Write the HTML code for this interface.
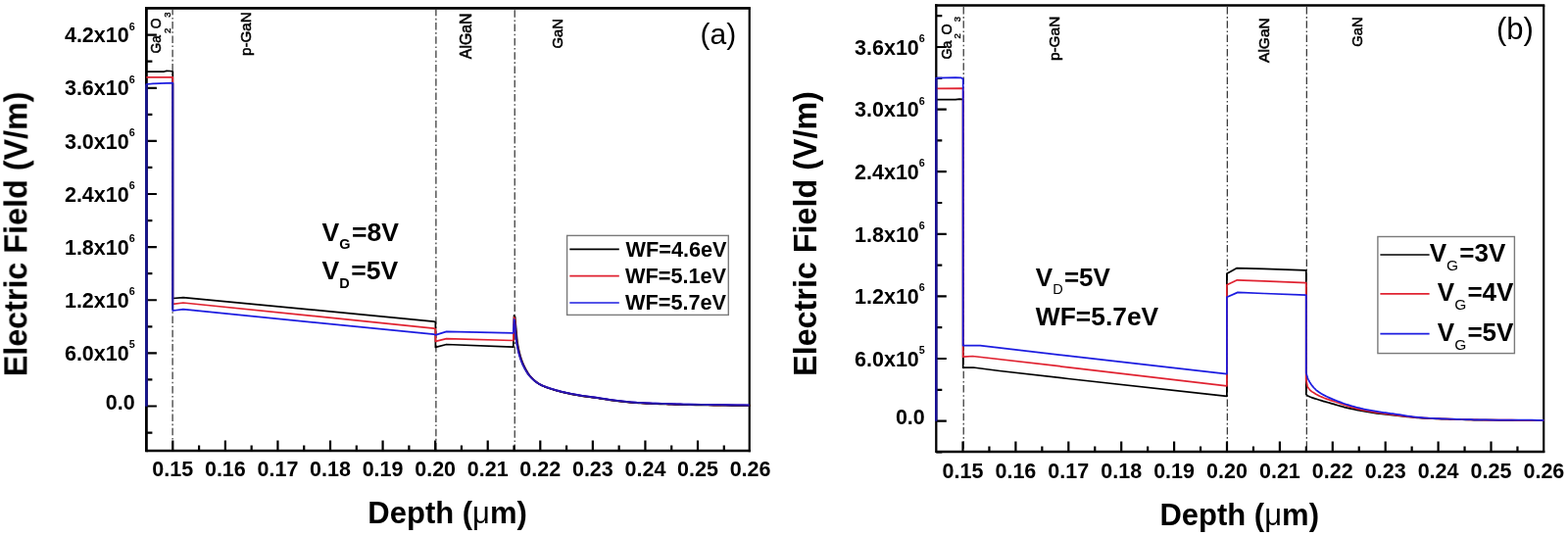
<!DOCTYPE html><html><head><meta charset="utf-8"><title>Electric field vs depth</title><style>html,body{margin:0;padding:0;background:#fff;}svg{display:block;}</style></head><body><svg width="1600" height="547" viewBox="0 0 1600 547" font-family='"Liberation Sans", Arial, sans-serif'>
<rect width="1600" height="547" fill="#fff"/>
<defs><filter id="soft" filterUnits="userSpaceOnUse" x="0" y="0" width="1600" height="547"><feGaussianBlur stdDeviation="0.45"/></filter></defs><g filter="url(#soft)">
<line x1="176.10" y1="9.80" x2="176.10" y2="459.10" stroke="#1a1a1a" stroke-width="1.1" stroke-dasharray="7.5 2.6 1.6 2.6" stroke-dashoffset="2.00"/>
<line x1="444.90" y1="9.80" x2="444.90" y2="459.10" stroke="#1a1a1a" stroke-width="1.1" stroke-dasharray="7.5 2.6 1.6 2.6" stroke-dashoffset="1.10"/>
<line x1="525.20" y1="9.80" x2="525.20" y2="459.10" stroke="#1a1a1a" stroke-width="1.1" stroke-dasharray="7.5 2.6 1.6 2.6" stroke-dashoffset="13.80"/>
<path d="M149.40 414.50 H159.90 M149.40 360.38 H159.90 M149.40 306.26 H159.90 M149.40 252.14 H159.90 M149.40 198.02 H159.90 M149.40 143.90 H159.90 M149.40 89.78 H159.90 M149.40 35.66 H159.90 M149.40 441.56 H155.40 M149.40 387.44 H155.40 M149.40 333.32 H155.40 M149.40 279.20 H155.40 M149.40 225.08 H155.40 M149.40 170.96 H155.40 M149.40 116.84 H155.40 M149.40 62.72 H155.40 M176.30 460.10 V449.60 M229.87 460.10 V449.60 M283.44 460.10 V449.60 M337.01 460.10 V449.60 M390.58 460.10 V449.60 M444.15 460.10 V449.60 M497.72 460.10 V449.60 M551.29 460.10 V449.60 M604.86 460.10 V449.60 M658.43 460.10 V449.60 M712.00 460.10 V449.60 M203.09 460.10 V454.60 M256.66 460.10 V454.60 M310.23 460.10 V454.60 M363.80 460.10 V454.60 M417.37 460.10 V454.60 M470.94 460.10 V454.60 M524.50 460.10 V454.60 M578.08 460.10 V454.60 M631.64 460.10 V454.60 M685.22 460.10 V454.60 M738.79 460.10 V454.60" stroke="#000" stroke-width="2.2" fill="none"/>
<path d="M149.40 461.20 V6.90" stroke="#000" stroke-width="2.8" fill="none"/>
<path d="M148.00 8.30 H765.85" stroke="#000" stroke-width="2.8" fill="none"/>
<path d="M764.75 8.30 V461.20" stroke="#000" stroke-width="2.2" fill="none"/>
<path d="M149.40 460.10 H765.85" stroke="#000" stroke-width="2.5" fill="none"/>
<path d="M149.40 73.00 L167.50 73.00 L170.00 72.30 L173.50 72.50 L176.30 73.00 L176.30 304.50 L187.00 303.60 L442.80 328.10 L444.40 329.00 L444.40 354.40 L455.60 351.50 L523.80 354.10 L524.60 322.00 L525.57 323.30 L525.64 324.11 L525.71 324.93 L525.78 325.74 L525.85 326.56 L525.92 327.37 L525.99 328.17 L526.06 328.96 L526.13 329.74 L526.20 330.50 L526.40 332.70 L526.60 334.95 L526.80 337.22 L527.00 339.47 L527.20 341.66 L527.40 343.77 L527.60 345.74 L527.80 347.54 L528.00 349.14 L528.20 350.50 L528.60 352.84 L529.00 354.97 L529.40 356.92 L529.80 358.70 L530.20 360.33 L530.60 361.84 L531.00 363.24 L531.40 364.55 L531.80 365.80 L532.20 367.00 L532.57 368.06 L532.94 369.07 L533.31 370.02 L533.68 370.93 L534.05 371.79 L534.42 372.61 L534.79 373.39 L535.16 374.15 L535.53 374.88 L535.90 375.60 L536.40 376.55 L536.90 377.47 L537.40 378.37 L537.90 379.24 L538.40 380.07 L538.90 380.87 L539.40 381.62 L539.90 382.33 L540.40 382.99 L540.90 383.60 L541.91 384.74 L542.92 385.82 L543.93 386.84 L544.94 387.80 L545.95 388.71 L546.96 389.55 L547.97 390.33 L548.98 391.04 L549.99 391.70 L551.00 392.30 L552.01 392.85 L553.02 393.35 L554.03 393.82 L555.04 394.27 L556.05 394.68 L557.06 395.07 L558.07 395.45 L559.08 395.81 L560.09 396.16 L561.10 396.50 L562.60 397.00 L564.10 397.48 L565.60 397.93 L567.10 398.38 L568.60 398.80 L570.10 399.21 L571.60 399.60 L573.10 399.98 L574.60 400.35 L576.10 400.70 L577.61 401.05 L579.12 401.38 L580.63 401.71 L582.14 402.02 L583.65 402.32 L585.16 402.62 L586.67 402.90 L588.18 403.18 L589.69 403.44 L591.20 403.70 L593.17 404.02 L595.14 404.32 L597.11 404.61 L599.08 404.89 L601.05 405.16 L603.02 405.42 L604.99 405.69 L606.96 405.95 L608.93 406.22 L610.90 406.50 L612.90 406.79 L614.90 407.10 L616.90 407.41 L618.90 407.72 L620.90 408.03 L622.90 408.33 L624.90 408.62 L626.90 408.90 L628.90 409.16 L630.90 409.40 L633.20 409.66 L635.50 409.91 L637.80 410.16 L640.10 410.39 L642.40 410.62 L644.70 410.83 L647.00 411.03 L649.30 411.20 L651.60 411.36 L653.90 411.50 L657.10 411.67 L660.30 411.82 L663.50 411.95 L666.70 412.08 L669.90 412.19 L673.10 412.30 L676.30 412.40 L679.50 412.50 L682.70 412.60 L685.90 412.70 L687.70 412.76 L689.50 412.81 L691.30 412.87 L693.10 412.92 L694.90 412.98 L696.70 413.03 L698.50 413.08 L700.30 413.12 L702.10 413.16 L703.90 413.20 L710.07 413.31 L716.24 413.41 L722.41 413.49 L728.58 413.57 L734.75 413.65 L740.92 413.72 L747.09 413.78 L753.26 413.85 L759.43 413.92 L765.60 414.00" fill="none" stroke="#000000" stroke-width="1.75" stroke-linejoin="round" stroke-linecap="butt"/>
<path d="M149.40 78.90 L176.30 78.90 L176.30 310.30 L187.00 309.00 L442.80 335.10 L444.40 336.00 L444.40 348.30 L455.60 345.60 L523.80 347.50 L524.60 324.00 L525.33 325.49 L525.40 326.31 L525.47 327.12 L525.54 327.92 L525.61 328.71 L525.68 329.49 L525.75 330.25 L525.95 332.45 L526.15 334.70 L526.35 336.97 L526.55 339.22 L526.75 341.41 L526.95 343.52 L527.15 345.49 L527.35 347.29 L527.55 348.89 L527.75 350.25 L528.15 352.59 L528.55 354.72 L528.95 356.67 L529.35 358.45 L529.75 360.08 L530.15 361.59 L530.55 362.99 L530.95 364.30 L531.35 365.55 L531.75 366.75 L532.12 367.81 L532.49 368.82 L532.86 369.77 L533.23 370.68 L533.60 371.54 L533.97 372.36 L534.34 373.14 L534.71 373.90 L535.08 374.63 L535.45 375.35 L535.95 376.30 L536.45 377.22 L536.95 378.12 L537.45 378.99 L537.95 379.82 L538.45 380.62 L538.95 381.37 L539.45 382.08 L539.95 382.74 L540.45 383.35 L541.46 384.49 L542.47 385.57 L543.48 386.59 L544.49 387.55 L545.50 388.46 L546.51 389.30 L547.52 390.08 L548.53 390.79 L549.54 391.45 L550.55 392.05 L551.56 392.60 L552.57 393.10 L553.58 393.57 L554.59 394.02 L555.60 394.43 L556.61 394.82 L557.62 395.20 L558.63 395.56 L559.64 395.91 L560.65 396.25 L562.15 396.75 L563.65 397.23 L565.15 397.68 L566.65 398.13 L568.15 398.55 L569.65 398.96 L571.15 399.35 L572.65 399.73 L574.15 400.10 L575.65 400.45 L577.16 400.80 L578.67 401.13 L580.18 401.46 L581.69 401.77 L583.20 402.07 L584.71 402.37 L586.22 402.65 L587.73 402.93 L589.24 403.19 L590.75 403.45 L592.72 403.77 L594.69 404.07 L596.66 404.36 L598.63 404.64 L600.60 404.91 L602.57 405.17 L604.54 405.44 L606.51 405.70 L608.48 405.97 L610.45 406.25 L612.45 406.54 L614.45 406.85 L616.45 407.16 L618.45 407.47 L620.45 407.78 L622.45 408.08 L624.45 408.37 L626.45 408.65 L628.45 408.91 L630.45 409.15 L632.75 409.41 L635.05 409.66 L637.35 409.91 L639.65 410.14 L641.95 410.37 L644.25 410.58 L646.55 410.78 L648.85 410.95 L651.15 411.11 L653.45 411.25 L656.65 411.42 L659.85 411.57 L663.05 411.70 L666.25 411.83 L669.45 411.94 L672.65 412.05 L675.85 412.15 L679.05 412.25 L682.25 412.35 L685.45 412.45 L687.25 412.51 L689.05 412.56 L690.85 412.62 L692.65 412.67 L694.45 412.73 L696.25 412.78 L698.05 412.83 L699.85 412.87 L701.65 412.91 L703.45 412.95 L709.62 413.06 L715.79 413.16 L721.96 413.24 L728.13 413.32 L734.30 413.40 L740.47 413.47 L746.64 413.53 L752.81 413.60 L758.98 413.67 L765.15 413.75" fill="none" stroke="#e02430" stroke-width="1.75" stroke-linejoin="round" stroke-linecap="butt"/>
<path d="M149.40 414.50 L149.40 86.00 L156.00 85.30 L176.30 84.60 L176.30 317.00 L187.00 315.60 L442.80 341.20 L444.40 341.80 L455.60 338.30 L523.80 339.90 L524.60 326.00 L525.02 326.87 L525.09 327.67 L525.16 328.46 L525.23 329.24 L525.30 330.00 L525.50 332.20 L525.70 334.45 L525.90 336.72 L526.10 338.97 L526.30 341.16 L526.50 343.27 L526.70 345.24 L526.90 347.04 L527.10 348.64 L527.30 350.00 L527.70 352.34 L528.10 354.47 L528.50 356.42 L528.90 358.20 L529.30 359.83 L529.70 361.34 L530.10 362.74 L530.50 364.05 L530.90 365.30 L531.30 366.50 L531.67 367.56 L532.04 368.57 L532.41 369.52 L532.78 370.43 L533.15 371.29 L533.52 372.11 L533.89 372.89 L534.26 373.65 L534.63 374.38 L535.00 375.10 L535.50 376.05 L536.00 376.97 L536.50 377.87 L537.00 378.74 L537.50 379.57 L538.00 380.37 L538.50 381.12 L539.00 381.83 L539.50 382.49 L540.00 383.10 L541.01 384.24 L542.02 385.32 L543.03 386.34 L544.04 387.30 L545.05 388.21 L546.06 389.05 L547.07 389.83 L548.08 390.54 L549.09 391.20 L550.10 391.80 L551.11 392.35 L552.12 392.85 L553.13 393.32 L554.14 393.77 L555.15 394.18 L556.16 394.57 L557.17 394.95 L558.18 395.31 L559.19 395.66 L560.20 396.00 L561.70 396.50 L563.20 396.98 L564.70 397.43 L566.20 397.88 L567.70 398.30 L569.20 398.71 L570.70 399.10 L572.20 399.48 L573.70 399.85 L575.20 400.20 L576.71 400.55 L578.22 400.88 L579.73 401.21 L581.24 401.52 L582.75 401.82 L584.26 402.12 L585.77 402.40 L587.28 402.68 L588.79 402.94 L590.30 403.20 L592.27 403.52 L594.24 403.82 L596.21 404.11 L598.18 404.39 L600.15 404.66 L602.12 404.92 L604.09 405.19 L606.06 405.45 L608.03 405.72 L610.00 406.00 L612.00 406.29 L614.00 406.60 L616.00 406.91 L618.00 407.22 L620.00 407.53 L622.00 407.83 L624.00 408.12 L626.00 408.40 L628.00 408.66 L630.00 408.90 L632.30 409.16 L634.60 409.41 L636.90 409.66 L639.20 409.89 L641.50 410.12 L643.80 410.33 L646.10 410.53 L648.40 410.70 L650.70 410.86 L653.00 411.00 L656.20 411.17 L659.40 411.32 L662.60 411.45 L665.80 411.58 L669.00 411.69 L672.20 411.80 L675.40 411.90 L678.60 412.00 L681.80 412.10 L685.00 412.20 L686.80 412.26 L688.60 412.31 L690.40 412.37 L692.20 412.42 L694.00 412.48 L695.80 412.53 L697.60 412.58 L699.40 412.62 L701.20 412.66 L703.00 412.70 L709.17 412.81 L715.34 412.91 L721.51 412.99 L727.68 413.07 L733.85 413.15 L740.02 413.22 L746.19 413.28 L752.36 413.35 L758.53 413.42 L764.70 413.50" fill="none" stroke="#1c1ce0" stroke-width="1.75" stroke-linejoin="round" stroke-linecap="butt"/>
<path d="M149.40 414.5 V86.5" stroke="#18148c" stroke-width="2.6" fill="none"/>
<path d="M526.40 337.12 L526.60 339.37 L526.80 341.56 L527.00 343.67 L527.20 345.64 L527.40 347.44 L527.60 349.04 L527.80 350.40 L528.20 352.74 L528.60 354.87 L529.00 356.82 L529.40 358.60 L529.80 360.23 L530.20 361.74 L530.60 363.14 L531.00 364.45 L531.40 365.70 L531.80 366.90 L532.17 367.96 L532.54 368.97 L532.91 369.92 L533.28 370.83 L533.65 371.69 L534.02 372.51 L534.39 373.29 L534.76 374.05 L535.13 374.78 L535.50 375.50 L536.00 376.45 L536.50 377.37 L537.00 378.27 L537.50 379.14 L538.00 379.97 L538.50 380.77 L539.00 381.52 L539.50 382.23 L540.00 382.89 L540.50 383.50 L541.51 384.64 L542.52 385.72 L543.53 386.74 L544.54 387.70 L545.55 388.61 L546.56 389.45 L547.57 390.23 L548.58 390.94 L549.59 391.60 L550.60 392.20 L551.61 392.75 L552.62 393.25 L553.63 393.72 L554.64 394.17 L555.65 394.58 L556.66 394.97 L557.67 395.35 L558.68 395.71 L559.69 396.06 L560.70 396.40 L562.20 396.90 L563.70 397.38 L565.20 397.83 L566.70 398.28 L568.20 398.70 L569.70 399.11 L571.20 399.50 L572.70 399.88 L574.20 400.25 L575.70 400.60 L577.21 400.95 L578.72 401.28 L580.23 401.61 L581.74 401.92 L583.25 402.22 L584.76 402.52 L586.27 402.80 L587.78 403.08 L589.29 403.34 L590.80 403.60 L592.77 403.92 L594.74 404.22 L596.71 404.51 L598.68 404.79 L600.65 405.06 L602.62 405.32 L604.59 405.59 L606.56 405.85 L608.53 406.12 L610.50 406.40 L612.50 406.69 L614.50 407.00 L616.50 407.31 L618.50 407.62 L620.50 407.93 L622.50 408.23 L624.50 408.52 L626.50 408.80 L628.50 409.06 L630.50 409.30 L632.80 409.56 L635.10 409.81 L637.40 410.06 L639.70 410.29 L642.00 410.52 L644.30 410.73 L646.60 410.93 L648.90 411.10 L651.20 411.26 L653.50 411.40 L656.70 411.57 L659.90 411.72 L663.10 411.85 L666.30 411.98 L669.50 412.09 L672.70 412.20 L675.90 412.30 L679.10 412.40 L682.30 412.50 L685.50 412.60 L687.30 412.66 L689.10 412.71 L690.90 412.77 L692.70 412.82 L694.50 412.88 L696.30 412.93 L698.10 412.98 L699.90 413.02 L701.70 413.06 L703.50 413.10 L709.67 413.21 L715.84 413.31 L722.01 413.39 L728.18 413.47 L734.35 413.55 L740.52 413.62 L746.69 413.68 L752.86 413.75 L759.03 413.82 L765.20 413.90" fill="none" stroke="#000" stroke-width="1.4" stroke-linejoin="round" stroke-linecap="butt"/>
<path d="M525.09 327.67 L525.16 328.46 L525.23 329.24 L525.30 330.00 L525.50 332.20 L525.70 334.45 L525.90 336.72 L526.10 338.97 L526.30 341.16 L526.50 343.27 L526.70 345.24 L526.90 347.04 L527.10 348.64 L527.30 350.00 L527.70 352.34 L528.10 354.47 L528.50 356.42 L528.90 358.20 L529.30 359.83 L529.70 361.34 L530.10 362.74 L530.50 364.05 L530.90 365.30 L531.30 366.50 L531.67 367.56 L532.04 368.57 L532.41 369.52 L532.78 370.43 L533.15 371.29 L533.52 372.11 L533.89 372.89 L534.26 373.65 L534.63 374.38 L535.00 375.10 L535.50 376.05 L536.00 376.97 L536.50 377.87 L537.00 378.74 L537.50 379.57 L538.00 380.37 L538.50 381.12 L539.00 381.83 L539.50 382.49 L540.00 383.10 L541.01 384.24 L542.02 385.32 L543.03 386.34 L544.04 387.30 L545.05 388.21 L546.06 389.05 L547.07 389.83 L548.08 390.54 L549.09 391.20 L550.10 391.80 L551.11 392.35 L552.12 392.85 L553.13 393.32 L554.14 393.77 L555.15 394.18 L556.16 394.57 L557.17 394.95 L558.18 395.31 L559.19 395.66 L560.20 396.00 L561.70 396.50 L563.20 396.98 L564.70 397.43 L566.20 397.88 L567.70 398.30 L569.20 398.71 L570.70 399.10 L572.20 399.48 L573.70 399.85 L575.20 400.20 L576.71 400.55 L578.22 400.88 L579.73 401.21 L581.24 401.52 L582.75 401.82 L584.26 402.12 L585.77 402.40 L587.28 402.68 L588.79 402.94 L590.30 403.20 L592.27 403.52 L594.24 403.82 L596.21 404.11 L598.18 404.39 L600.15 404.66 L602.12 404.92 L604.09 405.19 L606.06 405.45 L608.03 405.72 L610.00 406.00 L612.00 406.29 L614.00 406.60 L616.00 406.91 L618.00 407.22 L620.00 407.53 L622.00 407.83 L624.00 408.12 L626.00 408.40 L628.00 408.66 L630.00 408.90 L632.30 409.16 L634.60 409.41 L636.90 409.66 L639.20 409.89 L641.50 410.12 L643.80 410.33 L646.10 410.53 L648.40 410.70 L650.70 410.86 L653.00 411.00 L656.20 411.17 L659.40 411.32 L662.60 411.45 L665.80 411.58 L669.00 411.69 L672.20 411.80 L675.40 411.90 L678.60 412.00 L681.80 412.10 L685.00 412.20 L686.80 412.26 L688.60 412.31 L690.40 412.37 L692.20 412.42 L694.00 412.48 L695.80 412.53 L697.60 412.58 L699.40 412.62 L701.20 412.66 L703.00 412.70 L709.17 412.81 L715.34 412.91 L721.51 412.99 L727.68 413.07 L733.85 413.15 L740.02 413.22 L746.19 413.28 L752.36 413.35 L758.53 413.42 L764.70 413.50" fill="none" stroke="#2a16b4" stroke-width="1.9" stroke-linejoin="round" stroke-linecap="butt"/>
<path d="M176.3 85 V316.5" stroke="#2222a6" stroke-width="1.8" fill="none"/>
<text x="137.70" y="417.50" font-size="21.5" font-weight="bold" text-anchor="end" >0.0</text>
<text x="137.70" y="368.08" font-size="21.5" font-weight="bold" text-anchor="end">6.0x10<tspan font-size="10.75" dy="-12.8">5</tspan></text>
<text x="137.70" y="313.96" font-size="21.5" font-weight="bold" text-anchor="end">1.2x10<tspan font-size="10.75" dy="-12.8">6</tspan></text>
<text x="137.70" y="259.84" font-size="21.5" font-weight="bold" text-anchor="end">1.8x10<tspan font-size="10.75" dy="-12.8">6</tspan></text>
<text x="137.70" y="205.72" font-size="21.5" font-weight="bold" text-anchor="end">2.4x10<tspan font-size="10.75" dy="-12.8">6</tspan></text>
<text x="137.70" y="151.60" font-size="21.5" font-weight="bold" text-anchor="end">3.0x10<tspan font-size="10.75" dy="-12.8">6</tspan></text>
<text x="137.70" y="97.48" font-size="21.5" font-weight="bold" text-anchor="end">3.6x10<tspan font-size="10.75" dy="-12.8">6</tspan></text>
<text x="137.70" y="43.36" font-size="21.5" font-weight="bold" text-anchor="end">4.2x10<tspan font-size="10.75" dy="-12.8">6</tspan></text>
<text x="176.30" y="485.90" font-size="21.5" font-weight="bold" text-anchor="middle" >0.15</text>
<text x="229.87" y="485.90" font-size="21.5" font-weight="bold" text-anchor="middle" >0.16</text>
<text x="283.44" y="485.90" font-size="21.5" font-weight="bold" text-anchor="middle" >0.17</text>
<text x="337.01" y="485.90" font-size="21.5" font-weight="bold" text-anchor="middle" >0.18</text>
<text x="390.58" y="485.90" font-size="21.5" font-weight="bold" text-anchor="middle" >0.19</text>
<text x="444.15" y="485.90" font-size="21.5" font-weight="bold" text-anchor="middle" >0.20</text>
<text x="497.72" y="485.90" font-size="21.5" font-weight="bold" text-anchor="middle" >0.21</text>
<text x="551.29" y="485.90" font-size="21.5" font-weight="bold" text-anchor="middle" >0.22</text>
<text x="604.86" y="485.90" font-size="21.5" font-weight="bold" text-anchor="middle" >0.23</text>
<text x="658.43" y="485.90" font-size="21.5" font-weight="bold" text-anchor="middle" >0.24</text>
<text x="712.00" y="485.90" font-size="21.5" font-weight="bold" text-anchor="middle" >0.25</text>
<text x="765.57" y="485.90" font-size="21.5" font-weight="bold" text-anchor="middle" >0.26</text>
<text transform="translate(164.40,54.60) rotate(-90)" font-size="13.8" stroke="#000" stroke-width="0.55">Ga</text><text transform="translate(174.20,34.00) rotate(-90)" font-size="9.5" stroke="#000" stroke-width="0.4">2</text><text transform="translate(164.40,29.20) rotate(-90)" font-size="13.8" stroke="#000" stroke-width="0.55">O</text><text transform="translate(174.20,17.70) rotate(-90)" font-size="9.5" stroke="#000" stroke-width="0.4">3</text>
<text transform="translate(255.60,34.60) rotate(-90)" font-size="15.2" font-weight="normal" text-anchor="middle" stroke="#000" stroke-width="0.55">p-GaN</text>
<text transform="translate(481.40,36.80) rotate(-90)" font-size="15.9" font-weight="normal" text-anchor="middle" stroke="#000" stroke-width="0.55">AlGaN</text>
<text transform="translate(573.80,34.20) rotate(-90)" font-size="14.8" font-weight="normal" text-anchor="middle" stroke="#000" stroke-width="0.55">GaN</text>
<text x="732.90" y="44.80" font-size="30" font-weight="normal" text-anchor="middle" >(a)</text>
<text x="328.5" y="246" font-size="26.5" font-weight="bold">V<tspan font-size="14.5" dy="7.8">G</tspan><tspan dy="-7.8" dx="1.5">=8V</tspan></text>
<text x="328.5" y="285.4" font-size="26.5" font-weight="bold">V<tspan font-size="14.5" dy="8.4">D</tspan><tspan dy="-8.4" dx="1.5">=5V</tspan></text>
<rect x="578.6" y="240.4" width="164.7" height="81" fill="#fff" stroke="#7a7a7a" stroke-width="1.4"/>
<line x1="581.3" y1="254.3" x2="631.8" y2="254.3" stroke="#000000" stroke-width="1.7"/>
<line x1="581.3" y1="281.6" x2="631.8" y2="281.6" stroke="#e02430" stroke-width="1.7"/>
<line x1="581.3" y1="309.0" x2="631.8" y2="309.0" stroke="#1c1ce0" stroke-width="1.7"/>
<text x="638.50" y="262.00" font-size="21.7" font-weight="bold" text-anchor="start" >WF=4.6eV</text>
<text x="638.00" y="288.60" font-size="21.7" font-weight="bold" text-anchor="start" >WF=5.1eV</text>
<text x="638.00" y="315.80" font-size="21.7" font-weight="bold" text-anchor="start" >WF=5.7eV</text>
<text transform="translate(27.4,238.9) rotate(-90)" font-size="32.3" font-weight="bold" text-anchor="middle">Electric Field (V/m)</text>
<text x="456.6" y="534.4" font-size="31" font-weight="bold" text-anchor="middle">Depth (<tspan font-weight="normal">μ</tspan>m)</text>
<line x1="983.20" y1="7.00" x2="983.20" y2="460.00" stroke="#1a1a1a" stroke-width="1.1" stroke-dasharray="7.5 2.6 1.6 2.6" stroke-dashoffset="0.00"/>
<line x1="1252.30" y1="7.00" x2="1252.30" y2="460.00" stroke="#1a1a1a" stroke-width="1.1" stroke-dasharray="7.5 2.6 1.6 2.6" stroke-dashoffset="0.00"/>
<line x1="1333.30" y1="7.00" x2="1333.30" y2="460.00" stroke="#1a1a1a" stroke-width="1.1" stroke-dasharray="7.5 2.6 1.6 2.6" stroke-dashoffset="0.00"/>
<path d="M955.30 429.60 H965.80 M955.30 366.00 H965.80 M955.30 302.40 H965.80 M955.30 238.80 H965.80 M955.30 175.20 H965.80 M955.30 111.60 H965.80 M955.30 48.00 H965.80 M955.30 461.40 H961.30 M955.30 397.80 H961.30 M955.30 334.20 H961.30 M955.30 270.60 H961.30 M955.30 207.00 H961.30 M955.30 143.40 H961.30 M955.30 79.80 H961.30 M955.30 16.20 H961.30 M982.50 461.00 V450.50 M1036.40 461.00 V450.50 M1090.30 461.00 V450.50 M1144.20 461.00 V450.50 M1198.10 461.00 V450.50 M1252.00 461.00 V450.50 M1305.90 461.00 V450.50 M1359.80 461.00 V450.50 M1413.70 461.00 V450.50 M1467.60 461.00 V450.50 M1521.50 461.00 V450.50 M1009.45 461.00 V455.50 M1063.35 461.00 V455.50 M1117.25 461.00 V455.50 M1171.15 461.00 V455.50 M1225.05 461.00 V455.50 M1278.95 461.00 V455.50 M1332.85 461.00 V455.50 M1386.75 461.00 V455.50 M1440.65 461.00 V455.50 M1494.55 461.00 V455.50 M1548.45 461.00 V455.50" stroke="#000" stroke-width="2.2" fill="none"/>
<path d="M955.30 462.10 V4.35" stroke="#000" stroke-width="2.3" fill="none"/>
<path d="M954.15 5.50 H1576.30" stroke="#000" stroke-width="2.3" fill="none"/>
<path d="M1575.20 5.50 V462.10" stroke="#000" stroke-width="2.2" fill="none"/>
<path d="M955.30 461.00 H1576.30" stroke="#000" stroke-width="2.5" fill="none"/>
<path d="M955.30 101.70 L975.00 101.70 L979.00 101.10 L982.70 101.30 L982.70 375.20 L993.00 375.00 L1020.00 378.50 L1090.00 386.50 L1251.90 404.40 L1251.90 279.20 L1261.80 273.70 L1290.00 274.30 L1332.80 275.90 L1332.80 402.40 L1332.98 402.55 L1333.16 402.71 L1333.34 402.88 L1333.52 403.04 L1333.70 403.21 L1333.88 403.37 L1334.06 403.52 L1334.24 403.66 L1334.42 403.79 L1334.60 403.90 L1335.34 404.30 L1336.08 404.66 L1336.82 404.99 L1337.56 405.29 L1338.30 405.56 L1339.04 405.82 L1339.78 406.07 L1340.52 406.31 L1341.26 406.55 L1342.00 406.80 L1343.46 407.29 L1344.92 407.77 L1346.38 408.23 L1347.84 408.68 L1349.30 409.11 L1350.76 409.54 L1352.22 409.95 L1353.68 410.37 L1355.14 410.78 L1356.60 411.20 L1358.79 411.83 L1360.98 412.46 L1363.17 413.10 L1365.36 413.73 L1367.55 414.35 L1369.74 414.95 L1371.93 415.53 L1374.12 416.09 L1376.31 416.61 L1378.50 417.10 L1381.43 417.72 L1384.36 418.31 L1387.29 418.88 L1390.22 419.43 L1393.15 419.95 L1396.08 420.45 L1399.01 420.92 L1401.94 421.38 L1404.87 421.80 L1407.80 422.20 L1410.02 422.48 L1412.24 422.75 L1414.46 423.00 L1416.68 423.25 L1418.90 423.48 L1421.12 423.70 L1423.34 423.93 L1425.56 424.15 L1427.78 424.37 L1430.00 424.60 L1432.00 424.81 L1434.00 425.04 L1436.00 425.26 L1438.00 425.49 L1440.00 425.71 L1442.00 425.93 L1444.00 426.13 L1446.00 426.31 L1448.00 426.47 L1450.00 426.60 L1453.00 426.77 L1456.00 426.92 L1459.00 427.06 L1462.00 427.18 L1465.00 427.30 L1468.00 427.41 L1471.00 427.51 L1474.00 427.61 L1477.00 427.70 L1480.00 427.80 L1483.00 427.90 L1486.00 428.00 L1489.00 428.09 L1492.00 428.19 L1495.00 428.28 L1498.00 428.36 L1501.00 428.44 L1504.00 428.51 L1507.00 428.56 L1510.00 428.60 L1516.54 428.66 L1523.08 428.72 L1529.62 428.76 L1536.16 428.80 L1542.70 428.84 L1549.24 428.87 L1555.78 428.90 L1562.32 428.93 L1568.86 428.96 L1575.40 429.00" fill="none" stroke="#000000" stroke-width="1.75" stroke-linejoin="round" stroke-linecap="butt"/>
<path d="M955.30 90.40 L982.70 90.20 L982.70 364.20 L992.50 363.50 L1090.00 374.80 L1251.90 393.80 L1251.90 290.70 L1262.40 285.80 L1290.00 286.90 L1332.80 288.70 L1332.80 387.50 L1332.98 388.30 L1333.16 389.17 L1333.34 390.07 L1333.52 390.98 L1333.70 391.87 L1333.88 392.71 L1334.06 393.49 L1334.24 394.16 L1334.42 394.71 L1334.60 395.10 L1335.34 396.26 L1336.08 397.24 L1336.82 398.07 L1337.56 398.77 L1338.30 399.37 L1339.04 399.89 L1339.78 400.36 L1340.52 400.80 L1341.26 401.24 L1342.00 401.70 L1342.73 402.16 L1343.46 402.59 L1344.19 403.00 L1344.92 403.39 L1345.65 403.75 L1346.38 404.11 L1347.11 404.44 L1347.84 404.77 L1348.57 405.09 L1349.30 405.40 L1350.76 406.00 L1352.22 406.56 L1353.68 407.10 L1355.14 407.61 L1356.60 408.10 L1358.06 408.58 L1359.52 409.06 L1360.98 409.53 L1362.44 410.01 L1363.90 410.50 L1365.36 411.00 L1366.82 411.50 L1368.28 412.00 L1369.74 412.50 L1371.20 413.00 L1372.66 413.49 L1374.12 413.96 L1375.58 414.43 L1377.04 414.87 L1378.50 415.30 L1379.97 415.72 L1381.44 416.13 L1382.91 416.54 L1384.38 416.93 L1385.85 417.32 L1387.32 417.69 L1388.79 418.05 L1390.26 418.39 L1391.73 418.71 L1393.20 419.00 L1395.88 419.50 L1398.56 419.96 L1401.24 420.40 L1403.92 420.82 L1406.60 421.21 L1409.28 421.59 L1411.96 421.95 L1414.64 422.31 L1417.32 422.65 L1420.00 423.00 L1423.00 423.39 L1426.00 423.79 L1429.00 424.19 L1432.00 424.57 L1435.00 424.95 L1438.00 425.30 L1441.00 425.63 L1444.00 425.93 L1447.00 426.19 L1450.00 426.40 L1453.00 426.58 L1456.00 426.74 L1459.00 426.89 L1462.00 427.03 L1465.00 427.16 L1468.00 427.28 L1471.00 427.39 L1474.00 427.50 L1477.00 427.60 L1480.00 427.70 L1483.00 427.80 L1486.00 427.90 L1489.00 428.00 L1492.00 428.09 L1495.00 428.18 L1498.00 428.27 L1501.00 428.34 L1504.00 428.41 L1507.00 428.46 L1510.00 428.50 L1516.54 428.56 L1523.08 428.62 L1529.62 428.66 L1536.16 428.70 L1542.70 428.74 L1549.24 428.77 L1555.78 428.80 L1562.32 428.83 L1568.86 428.86 L1575.40 428.90" fill="none" stroke="#e02430" stroke-width="1.75" stroke-linejoin="round" stroke-linecap="butt"/>
<path d="M955.30 429.60 L955.30 79.60 L975.00 79.20 L980.50 79.30 L982.70 80.50 L982.70 352.70 L1000.00 352.70 L1090.00 363.10 L1251.90 381.70 L1251.90 303.30 L1263.00 298.40 L1290.00 299.50 L1332.80 301.10 L1332.80 380.50 L1332.98 381.09 L1333.16 381.71 L1333.34 382.34 L1333.52 382.98 L1333.70 383.60 L1333.88 384.22 L1334.06 384.80 L1334.24 385.35 L1334.42 385.85 L1334.60 386.30 L1335.04 387.28 L1335.48 388.19 L1335.92 389.05 L1336.36 389.84 L1336.80 390.58 L1337.24 391.28 L1337.68 391.93 L1338.12 392.55 L1338.56 393.14 L1339.00 393.70 L1339.59 394.42 L1340.18 395.11 L1340.77 395.76 L1341.36 396.38 L1341.95 396.97 L1342.54 397.53 L1343.13 398.06 L1343.72 398.56 L1344.31 399.04 L1344.90 399.50 L1345.63 400.04 L1346.36 400.54 L1347.09 401.02 L1347.82 401.48 L1348.55 401.92 L1349.28 402.34 L1350.01 402.75 L1350.74 403.14 L1351.47 403.52 L1352.20 403.90 L1353.37 404.49 L1354.54 405.05 L1355.71 405.60 L1356.88 406.12 L1358.05 406.63 L1359.22 407.12 L1360.39 407.61 L1361.56 408.08 L1362.73 408.54 L1363.90 409.00 L1365.36 409.56 L1366.82 410.12 L1368.28 410.67 L1369.74 411.20 L1371.20 411.73 L1372.66 412.24 L1374.12 412.73 L1375.58 413.20 L1377.04 413.66 L1378.50 414.10 L1379.97 414.52 L1381.44 414.94 L1382.91 415.34 L1384.38 415.73 L1385.85 416.10 L1387.32 416.47 L1388.79 416.82 L1390.26 417.16 L1391.73 417.49 L1393.20 417.80 L1394.66 418.10 L1396.12 418.39 L1397.58 418.67 L1399.04 418.94 L1400.50 419.20 L1401.96 419.45 L1403.42 419.70 L1404.88 419.94 L1406.34 420.17 L1407.80 420.40 L1409.26 420.62 L1410.72 420.83 L1412.18 421.04 L1413.64 421.24 L1415.10 421.43 L1416.56 421.62 L1418.02 421.82 L1419.48 422.01 L1420.94 422.20 L1422.40 422.40 L1425.16 422.80 L1427.92 423.22 L1430.68 423.66 L1433.44 424.10 L1436.20 424.53 L1438.96 424.95 L1441.72 425.33 L1444.48 425.68 L1447.24 425.97 L1450.00 426.20 L1453.00 426.40 L1456.00 426.58 L1459.00 426.75 L1462.00 426.90 L1465.00 427.04 L1468.00 427.16 L1471.00 427.28 L1474.00 427.39 L1477.00 427.50 L1480.00 427.60 L1483.00 427.70 L1486.00 427.80 L1489.00 427.90 L1492.00 428.00 L1495.00 428.09 L1498.00 428.17 L1501.00 428.24 L1504.00 428.31 L1507.00 428.36 L1510.00 428.40 L1516.54 428.46 L1523.08 428.52 L1529.62 428.56 L1536.16 428.60 L1542.70 428.64 L1549.24 428.67 L1555.78 428.70 L1562.32 428.73 L1568.86 428.76 L1575.40 428.80" fill="none" stroke="#1c1ce0" stroke-width="1.75" stroke-linejoin="round" stroke-linecap="butt"/>
<path d="M955.30 429.6 V80" stroke="#180e94" stroke-width="2.3" fill="none"/>
<text x="943.80" y="432.60" font-size="21.5" font-weight="bold" text-anchor="end" >0.0</text>
<text x="943.80" y="373.70" font-size="21.5" font-weight="bold" text-anchor="end">6.0x10<tspan font-size="10.75" dy="-12.8">5</tspan></text>
<text x="943.80" y="310.10" font-size="21.5" font-weight="bold" text-anchor="end">1.2x10<tspan font-size="10.75" dy="-12.8">6</tspan></text>
<text x="943.80" y="246.50" font-size="21.5" font-weight="bold" text-anchor="end">1.8x10<tspan font-size="10.75" dy="-12.8">6</tspan></text>
<text x="943.80" y="182.90" font-size="21.5" font-weight="bold" text-anchor="end">2.4x10<tspan font-size="10.75" dy="-12.8">6</tspan></text>
<text x="943.80" y="119.30" font-size="21.5" font-weight="bold" text-anchor="end">3.0x10<tspan font-size="10.75" dy="-12.8">6</tspan></text>
<text x="943.80" y="55.70" font-size="21.5" font-weight="bold" text-anchor="end">3.6x10<tspan font-size="10.75" dy="-12.8">6</tspan></text>
<text x="982.50" y="488.30" font-size="21.5" font-weight="bold" text-anchor="middle" >0.15</text>
<text x="1036.40" y="488.30" font-size="21.5" font-weight="bold" text-anchor="middle" >0.16</text>
<text x="1090.30" y="488.30" font-size="21.5" font-weight="bold" text-anchor="middle" >0.17</text>
<text x="1144.20" y="488.30" font-size="21.5" font-weight="bold" text-anchor="middle" >0.18</text>
<text x="1198.10" y="488.30" font-size="21.5" font-weight="bold" text-anchor="middle" >0.19</text>
<text x="1252.00" y="488.30" font-size="21.5" font-weight="bold" text-anchor="middle" >0.20</text>
<text x="1305.90" y="488.30" font-size="21.5" font-weight="bold" text-anchor="middle" >0.21</text>
<text x="1359.80" y="488.30" font-size="21.5" font-weight="bold" text-anchor="middle" >0.22</text>
<text x="1413.70" y="488.30" font-size="21.5" font-weight="bold" text-anchor="middle" >0.23</text>
<text x="1467.60" y="488.30" font-size="21.5" font-weight="bold" text-anchor="middle" >0.24</text>
<text x="1521.50" y="488.30" font-size="21.5" font-weight="bold" text-anchor="middle" >0.25</text>
<text x="1575.40" y="488.30" font-size="21.5" font-weight="bold" text-anchor="middle" >0.26</text>
<text transform="translate(970.80,60.60) rotate(-90)" font-size="14.3" stroke="#000" stroke-width="0.55">Ga</text><text transform="translate(980.20,39.40) rotate(-90)" font-size="9.5" stroke="#000" stroke-width="0.4">2</text><text transform="translate(970.80,35.60) rotate(-90)" font-size="14.3" stroke="#000" stroke-width="0.55">O</text><text transform="translate(980.20,22.30) rotate(-90)" font-size="9.5" stroke="#000" stroke-width="0.4">3</text>
<text transform="translate(1080.80,39.40) rotate(-90)" font-size="15.4" font-weight="normal" text-anchor="middle" stroke="#000" stroke-width="0.55">p-GaN</text>
<text transform="translate(1295.40,41.10) rotate(-90)" font-size="15.5" font-weight="normal" text-anchor="middle" stroke="#000" stroke-width="0.55">AlGaN</text>
<text transform="translate(1390.00,32.60) rotate(-90)" font-size="14.8" font-weight="normal" text-anchor="middle" stroke="#000" stroke-width="0.55">GaN</text>
<text x="1546.00" y="40.00" font-size="31" font-weight="normal" text-anchor="middle" >(b)</text>
<text x="1056.8" y="291.9" font-size="26" font-weight="bold">V<tspan font-size="14.5" font-weight="normal" dy="8.5">D</tspan><tspan dy="-8.5" dx="1.3">=5V</tspan></text>
<text x="1056.80" y="332.40" font-size="26.4" font-weight="bold" text-anchor="start" >WF=5.7eV</text>
<rect x="1405.9" y="241.5" width="139.5" height="119.1" fill="#fff" stroke="#7a7a7a" stroke-width="1.4"/>
<line x1="1408.4" y1="260.0" x2="1458.6" y2="260.0" stroke="#000000" stroke-width="1.7"/>
<line x1="1408.4" y1="299.9" x2="1458.6" y2="299.9" stroke="#e02430" stroke-width="1.7"/>
<line x1="1408.4" y1="340.6" x2="1458.6" y2="340.6" stroke="#1c1ce0" stroke-width="1.7"/>
<text x="1458.7" y="267.1" font-size="26" font-weight="bold">V<tspan font-size="15.5" font-weight="normal" dy="9">G</tspan><tspan dy="-9" dx="1.2">=3V</tspan></text>
<text x="1466.8" y="306.8" font-size="26" font-weight="bold">V<tspan font-size="15.5" font-weight="normal" dy="9">G</tspan><tspan dy="-9" dx="1.2">=4V</tspan></text>
<text x="1466.8" y="347.8" font-size="26" font-weight="bold">V<tspan font-size="15.5" font-weight="normal" dy="9">G</tspan><tspan dy="-9" dx="1.2">=5V</tspan></text>
<text transform="translate(832.6,238.5) rotate(-90)" font-size="32.3" font-weight="bold" text-anchor="middle">Electric Field (V/m)</text>
<text x="1264.7" y="536.3" font-size="31" font-weight="bold" text-anchor="middle">Depth (<tspan font-weight="normal">μ</tspan>m)</text>
</g>
</svg></body></html>
